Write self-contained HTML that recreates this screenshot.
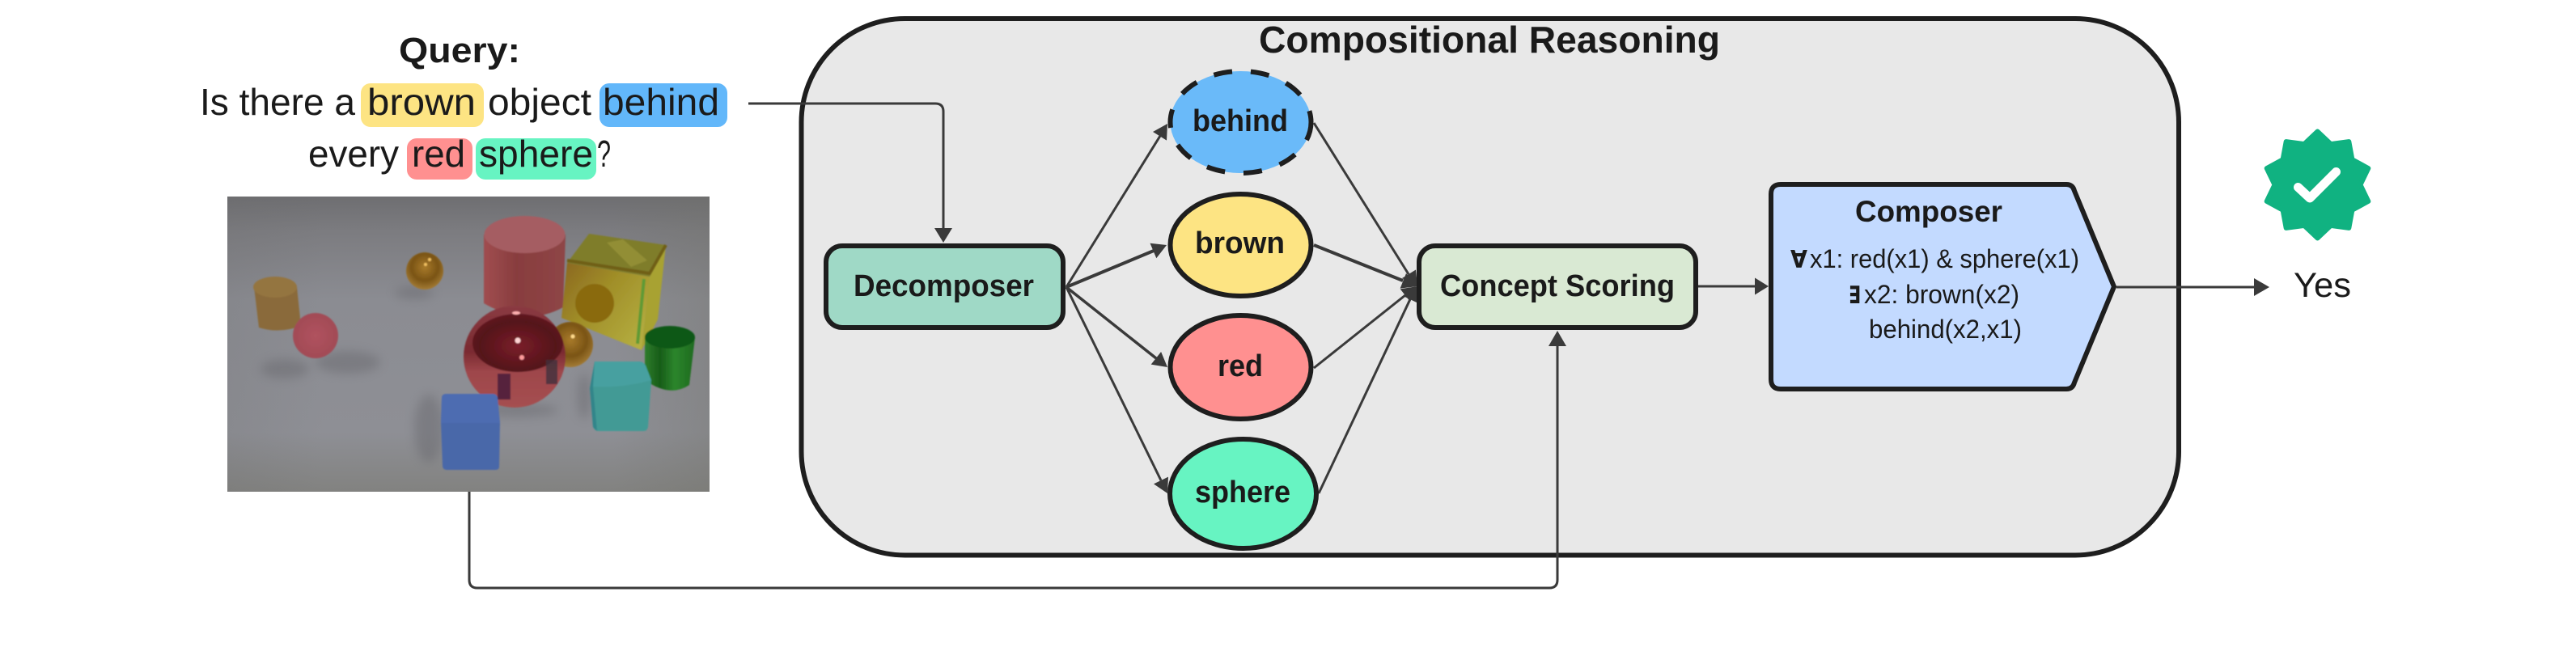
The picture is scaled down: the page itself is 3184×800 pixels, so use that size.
<!DOCTYPE html>
<html><head><meta charset="utf-8"><style>
html,body{margin:0;padding:0;background:#fff;width:3184px;height:800px;overflow:hidden}
svg{display:block}
text{font-family:"Liberation Sans","DejaVu Sans",sans-serif;fill:#1a1a1a}
.b{font-weight:700}
</style></head><body>
<svg width="3184" height="800" viewBox="0 0 3184 800" xmlns="http://www.w3.org/2000/svg">
<defs>
<linearGradient id="bg" x1="0" y1="0" x2="0" y2="1"><stop offset="0" stop-color="#6e6e71"/><stop offset=".12" stop-color="#7c7c80"/><stop offset=".35" stop-color="#8b8c92"/><stop offset=".8" stop-color="#8e8f95"/><stop offset="1" stop-color="#828280"/></linearGradient>
<linearGradient id="bgs" x1="0" y1="0" x2="1" y2="0"><stop offset="0" stop-color="#666" stop-opacity=".14"/><stop offset=".2" stop-color="#666" stop-opacity="0"/><stop offset=".8" stop-color="#707068" stop-opacity="0"/><stop offset="1" stop-color="#707068" stop-opacity=".3"/></linearGradient>
<radialGradient id="gold" cx=".5" cy=".4" r=".6"><stop offset="0" stop-color="#a87a2a"/><stop offset=".6" stop-color="#7a5415"/><stop offset="1" stop-color="#a37b35"/></radialGradient>
<radialGradient id="rs" cx=".5" cy=".5" r=".55"><stop offset="0" stop-color="#b0525e"/><stop offset="1" stop-color="#a04a55"/></radialGradient>
<radialGradient id="dome" cx=".5" cy=".55" r=".6"><stop offset="0" stop-color="#7a1f2a"/><stop offset=".7" stop-color="#541219"/><stop offset="1" stop-color="#661c24"/></radialGradient>
<linearGradient id="bigs" x1="0" y1="0" x2="0" y2="1"><stop offset="0" stop-color="#8a3a42"/><stop offset=".45" stop-color="#7a2a30"/><stop offset=".65" stop-color="#9e464b"/><stop offset="1" stop-color="#a54f50"/></linearGradient>
<linearGradient id="redcyl" x1="0" y1="0" x2="1" y2="0"><stop offset="0" stop-color="#a04d50"/><stop offset=".4" stop-color="#883d3e"/><stop offset="1" stop-color="#8e4546"/></linearGradient>
<linearGradient id="front" x1="0" y1="0" x2="1" y2=".8"><stop offset="0" stop-color="#8a6620"/><stop offset=".45" stop-color="#a08e28"/><stop offset="1" stop-color="#b4ae40"/></linearGradient>
<linearGradient id="grn" x1="0" y1="0" x2="1" y2="0"><stop offset="0" stop-color="#2f7d2c"/><stop offset=".3" stop-color="#175c18"/><stop offset=".6" stop-color="#2c852c"/><stop offset="1" stop-color="#1d6a1e"/></linearGradient>
<filter id="soft" x="-20%" y="-20%" width="140%" height="140%"><feGaussianBlur stdDeviation="0.800"/></filter>
<filter id="sh" x="-50%" y="-50%" width="200%" height="200%"><feGaussianBlur stdDeviation="6"/></filter>
<clipPath id="imgc"><rect x="281" y="243" width="596" height="365"/></clipPath>
<clipPath id="bigc"><circle cx="636" cy="441" r="63"/></clipPath>
</defs>

<!-- Query -->
<text class="b" x="493" y="77" font-size="44" textLength="150" lengthAdjust="spacingAndGlyphs">Query:</text>
<rect x="446" y="103" width="152" height="54" rx="12" fill="#fde483"/>
<rect x="741" y="103" width="158" height="54" rx="12" fill="#62b7fa"/>
<rect x="503" y="171" width="81" height="51" rx="12" fill="#ff9090"/>
<rect x="588" y="171" width="149" height="51" rx="12" fill="#67f4c2"/>
<text x="247" y="142" font-size="46" textLength="192" lengthAdjust="spacingAndGlyphs">Is there a</text>
<text x="454" y="142" font-size="46" textLength="134" lengthAdjust="spacingAndGlyphs">brown</text>
<text x="603" y="142" font-size="46" textLength="128" lengthAdjust="spacingAndGlyphs">object</text>
<text x="745" y="142" font-size="46" textLength="144" lengthAdjust="spacingAndGlyphs">behind</text>
<text x="381" y="206" font-size="46" textLength="112" lengthAdjust="spacingAndGlyphs">every</text>
<text x="509" y="206" font-size="46" textLength="66" lengthAdjust="spacingAndGlyphs">red</text>
<text x="592" y="206" font-size="46" textLength="141" lengthAdjust="spacingAndGlyphs">sphere</text>
<text x="738" y="206" font-size="46" textLength="17" lengthAdjust="spacingAndGlyphs">?</text>

<!-- Scene image -->
<g clip-path="url(#imgc)">
<rect x="281" y="243" width="596" height="365" fill="url(#bg)"/>
<rect x="281" y="243" width="596" height="365" fill="url(#bgs)"/>
<g filter="url(#sh)" fill="#66666c" opacity=".45">
<ellipse cx="430" cy="448" rx="40" ry="14"/><ellipse cx="352" cy="456" rx="30" ry="12"/>
<ellipse cx="512" cy="362" rx="24" ry="8"/><ellipse cx="530" cy="530" rx="18" ry="42"/>
<ellipse cx="640" cy="507" rx="50" ry="8"/><ellipse cx="722" cy="490" rx="8" ry="28"/>
</g>
<g filter="url(#soft)">
<!-- brown cylinder -->
<path d="M314 355 L320 405 Q345 413 372 403 L367 355 Z" fill="#8a6b3a"/>
<ellipse cx="340" cy="355" rx="27" ry="13" fill="#94743f"/>
<!-- red small sphere -->
<circle cx="390" cy="415" r="28" fill="url(#rs)"/>
<!-- gold sphere -->
<circle cx="525" cy="335" r="23" fill="url(#gold)"/>
<circle cx="526" cy="327" r="2" fill="#f0c060"/><circle cx="531" cy="321" r="2" fill="#f0c060"/>
<!-- red cylinder -->
<path d="M598 290 L598 375 Q650 405 696 380 L699 290 Z" fill="url(#redcyl)"/>
<ellipse cx="648.500" cy="290" rx="50" ry="23" fill="#a55d62"/>
<!-- gold cube -->
<polygon points="701,325 694,393 793,433 803,342" fill="url(#front)"/>
<polygon points="803,342 823,303 813,395 793,433" fill="#a8a233"/>
<polygon points="701,325 728,289 823,303 803,342" fill="#7f7d2c"/>
<polygon points="750,300 770,296 800,322 780,330" fill="#9a9638" opacity=".7"/>
<path d="M701 322 L803 338 L823 303" stroke="#6f5f12" stroke-width="4" fill="none"/>
<path d="M796 345 L788 425" stroke="#5f9a34" stroke-width="4" fill="none"/>
<circle cx="735" cy="375" r="24" fill="#8a6a10"/>
<!-- green cylinder -->
<path d="M797 417 L797 470 Q828 492 852 476 L859 417 Z" fill="url(#grn)"/>
<ellipse cx="828" cy="417" rx="31" ry="14" fill="#115814"/>
<!-- gold 2 -->
<circle cx="705" cy="426" r="28" fill="url(#gold)"/>
<circle cx="708" cy="416" r="2.500" fill="#ffd98a"/>
<!-- cyan cube -->
<path d="M735 447 L790 447 Q795 447 798 452 L805 470 L801 528 Q800 533 795 533 L740 533 Q735 533 733 528 L729 480 Z" fill="#429a95"/>
<path d="M735 447 L790 447 Q795 447 798 452 L805 470 Q770 480 732 478 L730 480 Z" fill="#46a0a0"/>
<path d="M735 447 L729 480 L733 528 L738 533 L733 478 Z" fill="#32858a"/>
<!-- big red sphere -->
<circle cx="636" cy="441" r="63" fill="url(#bigs)"/>
<g clip-path="url(#bigc)">
<ellipse cx="640" cy="424" rx="56" ry="36" fill="url(#dome)"/>
<rect x="615" y="462" width="16" height="32" fill="#4a1a3a" opacity=".85"/>
<rect x="675" y="445" width="14" height="30" fill="#40323c" opacity=".8"/>
</g>
<circle cx="640" cy="421" r="3.500" fill="#ffd4d4"/><circle cx="645" cy="442" r="3" fill="#ff9b9b"/><ellipse cx="638" cy="387" rx="5" ry="2" fill="#ffb0b0"/>
<!-- blue cube -->
<path d="M552 487 L609 487 Q614 487 615 492 L618 523 L617 577 Q617 581 612 581 L553 581 Q547 581 547 576 L545 523 L546 492 Q546 487 552 487 Z" fill="#4a68a9"/>
<path d="M552 487 L609 487 Q614 487 615 492 L618 523 L545 523 L546 492 Q546 487 552 487 Z" fill="#4e6cb1"/>
</g>
</g>

<!-- Container -->
<rect x="990.500" y="23" width="1702.500" height="663.500" rx="128" ry="128" fill="#e8e8e8" stroke="#1e1e1e" stroke-width="6"/>
<text class="b" x="1556" y="65" font-size="46" textLength="570" lengthAdjust="spacingAndGlyphs">Compositional Reasoning</text>

<!-- Connectors -->
<g fill="none" stroke="#3a3a3a" stroke-width="3">
<path d="M925 128 L1156 128 Q1166 128 1166 138 L1166 284"/>
<path d="M580 608 L580 717 Q580 727 590 727 L1915 727 Q1925 727 1925 717 L1925 426"/>
<path d="M2099 354 L2172 354"/>
<path d="M2616 355 L2790 355"/>
<path d="M1318 355 L1434 168"/>
<path d="M1318 355 L1426 310" stroke-width="4"/>
<path d="M1318 355 L1429 443" stroke-width="3.500"/>
<path d="M1318 355 L1435 594"/>
<path d="M1624 152 L1741 339"/>
<path d="M1624 303 L1734 347" stroke-width="4"/>
<path d="M1624 455 L1737 365"/>
<path d="M1630 610 L1743 370"/>
</g>
<g fill="#3a3a3a">
<polygon points="1166,300 1155,282 1177,282"/>
<polygon points="1925,409 1914,428 1936,428"/>
<polygon points="2186,354 2169,343.500 2169,364.500"/>
<polygon points="2805,355 2786,344 2786,366"/>
<polygon points="1443,153 1442,173.600 1425,163"/>
<polygon points="1442,303 1421.500,300.800 1429.300,319.200"/>
<polygon points="1443,454 1435.100,435 1422.700,450.600"/>
<polygon points="1443,610 1444,589.600 1426,598.400"/>
<polygon points="1752,354 1750,333.500 1733,344"/>
<polygon points="1752,354 1738,338 1730.600,356.600"/>
<polygon points="1752,354 1743,373 1730.700,357.400"/>
<polygon points="1752,354 1752.300,374.600 1734.300,366"/>
</g>

<!-- Nodes -->
<rect x="1021" y="304" width="293" height="101" rx="20" fill="#9fd9c6" stroke="#1e1e1e" stroke-width="6"/>
<text class="b" x="1055" y="366" font-size="38" textLength="223" lengthAdjust="spacingAndGlyphs">Decomposer</text>

<ellipse cx="1533.500" cy="151" rx="87" ry="63" fill="#6abaf9" stroke="#1e1e1e" stroke-width="6" stroke-dasharray="23 23"/>
<text class="b" x="1474" y="162" font-size="38" textLength="118" lengthAdjust="spacingAndGlyphs">behind</text>
<ellipse cx="1533.500" cy="303" rx="87" ry="63" fill="#fde483" stroke="#1e1e1e" stroke-width="6"/>
<text class="b" x="1477" y="313" font-size="38" textLength="111" lengthAdjust="spacingAndGlyphs">brown</text>
<ellipse cx="1533.500" cy="454" rx="87" ry="64" fill="#ff9090" stroke="#1e1e1e" stroke-width="6"/>
<text class="b" x="1505" y="465" font-size="38" textLength="56" lengthAdjust="spacingAndGlyphs">red</text>
<ellipse cx="1536.500" cy="610.500" rx="90.500" ry="67.500" fill="#67f4c2" stroke="#1e1e1e" stroke-width="6"/>
<text class="b" x="1477" y="621" font-size="38" textLength="118" lengthAdjust="spacingAndGlyphs">sphere</text>

<rect x="1754" y="304" width="342" height="101" rx="20" fill="#d9e9d3" stroke="#1e1e1e" stroke-width="6"/>
<text class="b" x="1780" y="366" font-size="38" textLength="290" lengthAdjust="spacingAndGlyphs">Concept Scoring</text>

<path d="M2201 228 L2554 228 Q2562 228 2564 236 L2613 354.500 L2564 473 Q2562 481 2554 481 L2201 481 Q2189 481 2189 469 L2189 240 Q2189 228 2201 228 Z" fill="#c3daff" stroke="#1e1e1e" stroke-width="6" stroke-linejoin="round"/>
<text class="b" x="2293" y="274" font-size="37" textLength="182" lengthAdjust="spacingAndGlyphs">Composer</text>
<text class="b" x="2213" y="331" font-size="30" textLength="21" lengthAdjust="spacingAndGlyphs">∀</text>
<text x="2237" y="331" font-size="32" textLength="333" lengthAdjust="spacingAndGlyphs">x1: red(x1) &amp; sphere(x1)</text>
<text class="b" x="2285" y="375" font-size="30" textLength="15" lengthAdjust="spacingAndGlyphs">∃</text>
<text x="2304" y="375" font-size="32" textLength="192" lengthAdjust="spacingAndGlyphs">x2: brown(x2)</text>
<text x="2310" y="418" font-size="32" textLength="189" lengthAdjust="spacingAndGlyphs">behind(x2,x1)</text>

<!-- Badge -->
<g transform="translate(2864.500,228.500)">
<polygon points="0,-66 16.400,-50.400 38.800,-53.400 42.900,-31.200 62.800,-20.400 53,0 62.800,20.400 42.900,31.200 38.800,53.400 16.400,50.400 0,66 -16.400,50.400 -38.800,53.400 -42.900,31.200 -62.800,20.400 -53,0 -62.800,-20.400 -42.900,-31.200 -38.800,-53.400 -16.400,-50.400" fill="#10b281" stroke="#10b281" stroke-width="6" stroke-linejoin="round"/>
<path d="M-24 3 L-9.500 16.500 L23 -16" fill="none" stroke="#fff" stroke-width="11" stroke-linecap="round" stroke-linejoin="round"/>
</g>
<text x="2835" y="367" font-size="43" textLength="71" lengthAdjust="spacingAndGlyphs">Yes</text>
</svg>
</body></html>
